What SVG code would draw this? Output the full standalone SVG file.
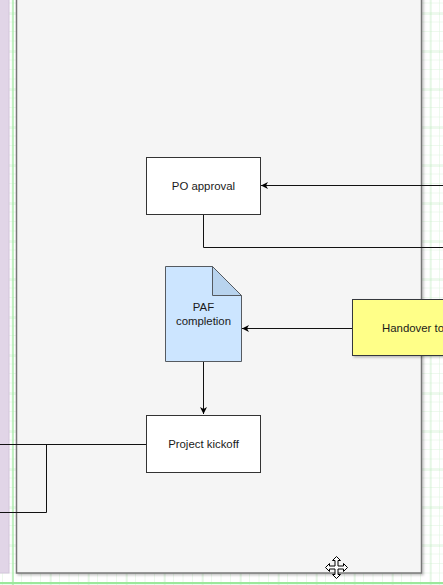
<svg xmlns="http://www.w3.org/2000/svg" width="443" height="585" viewBox="0 0 443 585">
  <defs>
    <pattern id="minor" x="3" y="3.5" width="9.5" height="9.5" patternUnits="userSpaceOnUse">
      <path d="M9.5 0V9.5M0 9.5H9.5" fill="none" stroke="#ddf3dd" stroke-width="1"/>
    </pattern>
    <pattern id="major" x="12.5" y="13.5" width="38" height="38" patternUnits="userSpaceOnUse">
      <path d="M0 0V38M0 0H38" fill="none" stroke="#b6e8b6" stroke-width="1"/>
    </pattern>
    <marker id="arr" markerWidth="8" markerHeight="8" refX="7" refY="4" orient="auto" markerUnits="userSpaceOnUse">
      <path d="M0 0.5L7 4L0 7.5L2 4Z" fill="#000"/>
    </marker>
    <filter id="sh" x="-10%" y="-10%" width="130%" height="130%">
      <feDropShadow dx="1.5" dy="1.5" stdDeviation="1" flood-color="#000" flood-opacity="0.25"/>
    </filter>
    <style>
      .box{fill:#ffffff;stroke:#333;stroke-width:1}
      .lbl{font-family:"Liberation Sans",Arial,sans-serif;font-size:11.4px;fill:#1a1a1a;text-anchor:middle}
      .edge{fill:none;stroke:#111;stroke-width:1}
    </style>
  </defs>

  <!-- background grid -->
  <rect width="443" height="585" fill="#ffffff"/>
  <rect width="443" height="585" fill="url(#minor)"/>
  <rect width="443" height="585" fill="url(#major)"/>
  <line x1="13" y1="0" x2="13" y2="585" stroke="#9be89b" stroke-width="1"/>
  <line x1="0" y1="583" x2="443" y2="583" stroke="#9be89b" stroke-width="2"/>

  <!-- left purple lane -->
  <g id="lane-left">
    <rect x="-2" y="-2" width="11" height="575" fill="#e1d5e7" stroke="#d2c4da" stroke-width="1"/>
  </g>

  <!-- main container -->
  <g id="container">
    <rect x="16.5" y="-5" width="405" height="578" fill="#f5f5f5" stroke="#777" stroke-width="1.5" filter="url(#sh)"/>
  </g>

  <!-- connectors -->
  <g id="connectors">
    <path class="edge" d="M443 185.5H261" marker-end="url(#arr)"/>
    <path class="edge" d="M203.5 214V247.5H443"/>
    <path class="edge" d="M352 328.5H242" marker-end="url(#arr)"/>
    <path class="edge" d="M203.5 361V414" marker-end="url(#arr)"/>
    <path class="edge" d="M0 444.5H146"/>
    <path class="edge" d="M0 512.5H46.5V444.5"/>
  </g>

  <g id="po-approval">
    <rect class="box" x="146.5" y="157.5" width="114" height="57"/>
    <text class="lbl" x="203.5" y="189.5">PO approval</text>
  </g>

  <g id="paf-completion">
    <path d="M165.5 266.5H212.5L241.5 295.5V361.5H165.5Z" fill="#cce5ff" stroke="#555a60" stroke-width="1"/>
    <path d="M212.5 266.5V295.5H241.5Z" fill="#b8d3ee" stroke="#555a60" stroke-width="1"/>
    <text class="lbl" x="203.5" y="311">PAF</text>
    <text class="lbl" x="203.5" y="325">completion</text>
  </g>

  <g id="handover">
    <rect x="352.5" y="299.5" width="110" height="56" fill="#ffff88" stroke="#36393d" stroke-width="1" filter="url(#sh)"/>
    <text class="lbl" x="382" y="332" style="text-anchor:start">Handover to</text>
  </g>

  <g id="project-kickoff">
    <rect class="box" x="146.5" y="415.5" width="114" height="57"/>
    <text class="lbl" x="203.5" y="448">Project kickoff</text>
  </g>

  <!-- move cursor -->
  <g id="cursor" transform="translate(336.5 567.5)">
    <path d="M0 -11L-4 -7H-1.5V-1.5H-7V-4L-11 0L-7 4V1.5H-1.5V7H-4L0 11L4 7H1.5V1.5H7V4L11 0L7 -4V-1.5H1.5V-7H4Z" fill="#fff" stroke="#000" stroke-width="1"/>
  </g>
</svg>
